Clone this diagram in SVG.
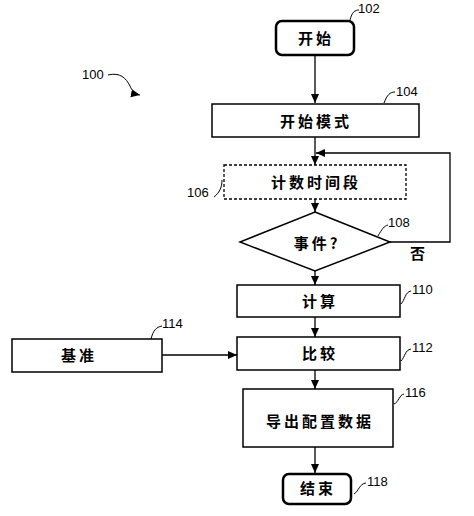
<svg xmlns="http://www.w3.org/2000/svg" width="474" height="516" viewBox="0 0 474 516">
<style>
.box{fill:#fff;stroke:#000;stroke-width:1.5}
.term{fill:#fff;stroke:#000;stroke-width:2.5}
.dash{fill:#fff;stroke:#000;stroke-width:1.3;stroke-dasharray:3 2}
.t{font-family:"Noto Sans CJK SC",sans-serif;font-size:15px;font-weight:bold;text-anchor:middle;letter-spacing:3px}
.n{font-family:"Liberation Sans",Arial,sans-serif;font-size:13px}
.ln{fill:none;stroke:#000;stroke-width:1.3}
.ld{fill:none;stroke:#000;stroke-width:1}
</style>
<defs>
<marker id="ah" markerWidth="10" markerHeight="10" refX="9" refY="5" orient="auto" markerUnits="userSpaceOnUse">
<path d="M0,1 L9,5 L0,9 Z" fill="#000"/>
</marker>
</defs>
<g id="connectors">
<line class="ln" x1="315" y1="55" x2="315" y2="103" marker-end="url(#ah)"/>
<line class="ln" x1="315" y1="137" x2="315" y2="165" marker-end="url(#ah)"/>
<polyline class="ln" points="390,242 450,242 450,153 316,153" marker-end="url(#ah)"/>
<line class="ln" x1="315" y1="199" x2="315" y2="212" marker-end="url(#ah)"/>
<line class="ln" x1="315" y1="271" x2="315" y2="285" marker-end="url(#ah)"/>
<line class="ln" x1="315" y1="317" x2="315" y2="337" marker-end="url(#ah)"/>
<line class="ln" x1="162" y1="355" x2="237" y2="355" marker-end="url(#ah)"/>
<line class="ln" x1="315" y1="370" x2="315" y2="389" marker-end="url(#ah)"/>
<line class="ln" x1="315" y1="447" x2="315" y2="473" marker-end="url(#ah)"/>
</g>
<g id="label100">
<text class="n" x="82" y="79">100</text>
<path class="ld" d="M108,75 C120,72 126,78 130,86 C132,91 135,94 140,95" marker-end="url(#ah)"/>
</g>
<g id="n102">
<rect class="term" x="276" y="21" width="78" height="34" rx="6"/>
<text class="t" x="316" y="44">开始</text>
<path class="ld" d="M350,20 C352,12 355,10 359,10"/>
<text class="n" x="358" y="13">102</text>
</g>
<g id="n104">
<rect class="box" x="212" y="104" width="207" height="33"/>
<text class="t" x="316" y="127">开始模式</text>
<path class="ld" d="M384,103 C387,95 390,92 395,92"/>
<text class="n" x="396" y="96">104</text>
</g>
<g id="n106">
<rect class="dash" x="224" y="165" width="182" height="34"/>
<text class="t" x="316" y="188">计数时间段</text>
<path class="ld" d="M214,197 C219,193 222,188 222,180"/>
<text class="n" x="187" y="197">106</text>
</g>
<g id="n108">
<polygon class="box" points="315,212 390,242 315,271 240,242"/>
<text class="t" x="317" y="249">事件?</text>
<path class="ld" d="M378,236 C382,229 384,226 388,225"/>
<text class="n" x="388" y="227">108</text>
<text class="t" x="419" y="259">否</text>
</g>
<g id="n110">
<rect class="box" x="237" y="285" width="163" height="32"/>
<text class="t" x="320" y="307">计算</text>
<path class="ld" d="M401,304 C405,300 405,292 411,291"/>
<text class="n" x="412" y="294">110</text>
</g>
<g id="n112">
<rect class="box" x="237" y="337" width="163" height="33"/>
<text class="t" x="320" y="359">比较</text>
<path class="ld" d="M401,361 C405,357 405,350 411,349"/>
<text class="n" x="412" y="352">112</text>
</g>
<g id="n114">
<rect class="box" x="12" y="339" width="150" height="33"/>
<text class="t" x="79" y="361">基准</text>
<path class="ld" d="M151,339 C153,331 156,327 162,326"/>
<text class="n" x="162" y="328">114</text>
</g>
<g id="n116">
<rect class="box" x="243" y="389" width="150" height="58"/>
<text class="t" x="320" y="427">导出配置数据</text>
<path class="ld" d="M394,404 C399,402 399,395 404,394"/>
<text class="n" x="405" y="397">116</text>
</g>
<g id="n118">
<rect class="term" x="283" y="474" width="68" height="30" rx="6"/>
<text class="t" x="318" y="494">结束</text>
<path class="ld" d="M354,494 C359,491 359,484 366,483"/>
<text class="n" x="367" y="486">118</text>
</g>
</svg>
